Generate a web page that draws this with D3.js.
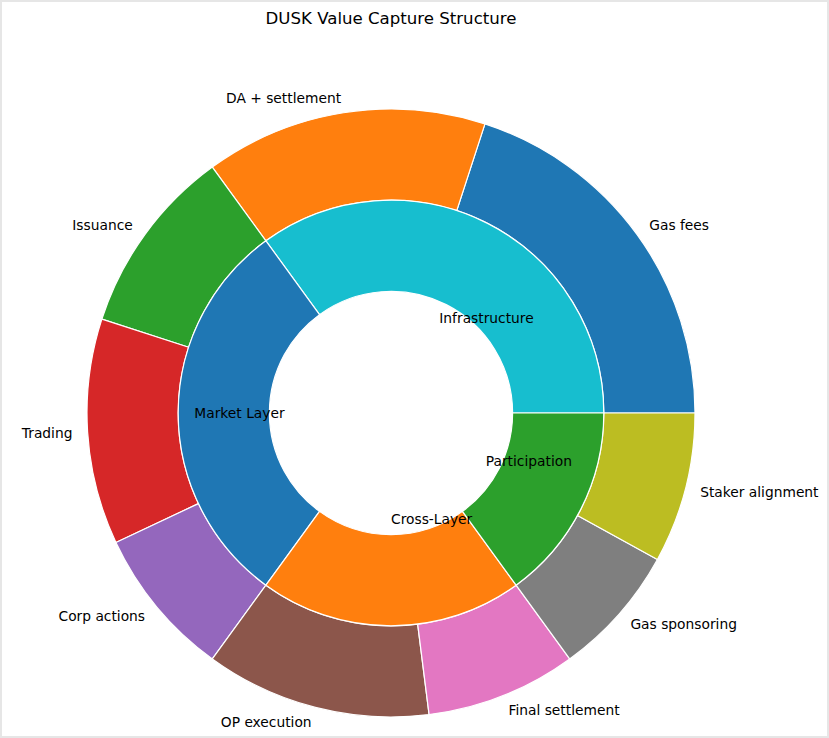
<!DOCTYPE html>
<html>
<head>
<meta charset="utf-8">
<script src="https://cdn.jsdelivr.net/npm/d3@7"></script>
<style>
  html, body { margin: 0; padding: 0; background: #fff; }
  svg text { font-family: "DejaVu Sans", sans-serif; fill: #000; }
</style>
</head>
<body>
<div id="chart"></div>
<script>
// outer ring: detailed value sources
const outerLabels = ["Gas fees", "DA + settlement", "Issuance", "Trading", "Corp actions",
  "OP execution", "Final settlement", "Gas sponsoring", "Staker alignment"];
const outerValues = [20, 15, 10, 12, 8, 12, 8, 7, 8];
const outerColors = ["#1f77b4", "#ff7f0e", "#2ca02c", "#d62728", "#9467bd",
  "#8c564b", "#e377c2", "#7f7f7f", "#bcbd22"];

// inner ring: layers
const innerLabels = ["Infrastructure", "Market Layer", "Cross-Layer", "Participation"];
const innerValues = [35, 30, 20, 15];
const innerColors = ["#17becf", "#1f77b4", "#ff7f0e", "#2ca02c"];

const WIDTH = 829, HEIGHT = 738;
const CX = 391, CY = 413;
const RADIUS = 304;

const svg = d3.select("#chart")
  .append("svg")
    .attr("width", WIDTH)
    .attr("height", HEIGHT);

svg.append("rect")
  .attr("x", 1).attr("y", 1)
  .attr("width", WIDTH - 2).attr("height", HEIGHT - 2)
  .attr("fill", "#fff")
  .attr("stroke", "#e6e6e6")
  .attr("stroke-width", 2);

svg.append("text")
  .attr("x", CX)
  .attr("y", 24)
  .attr("text-anchor", "middle")
  .attr("font-size", "16.6px")
  .text("DUSK Value Capture Structure");

const g = svg.append("g")
  .attr("transform", "translate(" + CX + "," + CY + ")");

// matplotlib style: start at east, go counter-clockwise
// d3 angles are clockwise from north, so map a -> PI/2 - a
const pie = d3.pie().sort(null).value(d => d)
  .startAngle(Math.PI / 2)
  .endAngle(Math.PI / 2 - 2 * Math.PI);

function drawRing(values, labels, colors, r0, r1, labelR) {
  const arcs = pie(values);
  const arc = d3.arc().innerRadius(r0).outerRadius(r1);
  g.selectAll(null)
    .data(arcs)
    .enter()
    .append("path")
      .attr("d", arc)
      .attr("fill", (d, i) => colors[i])
      .attr("stroke", "white")
      .attr("stroke-width", 1.2)
      .attr("stroke-linejoin", "round");

  g.selectAll(null)
    .data(arcs)
    .enter()
    .append("text")
      .text((d, i) => labels[i])
      .attr("font-size", "13.8px")
      .attr("dominant-baseline", "central")
      .attr("x", d => {
        const mid = (d.startAngle + d.endAngle) / 2;
        return labelR * Math.sin(mid);
      })
      .attr("y", d => {
        const mid = (d.startAngle + d.endAngle) / 2;
        return -labelR * Math.cos(mid);
      })
      .attr("text-anchor", d => {
        const mid = (d.startAngle + d.endAngle) / 2;
        return Math.sin(mid) > -1e-9 ? "start" : "end";
      });
}

drawRing(outerValues, outerLabels, outerColors, RADIUS * 0.7, RADIUS, RADIUS * 1.05);
drawRing(innerValues, innerLabels, innerColors, RADIUS * 0.4, RADIUS * 0.7, RADIUS * 0.35);
</script>
</body>
</html>
